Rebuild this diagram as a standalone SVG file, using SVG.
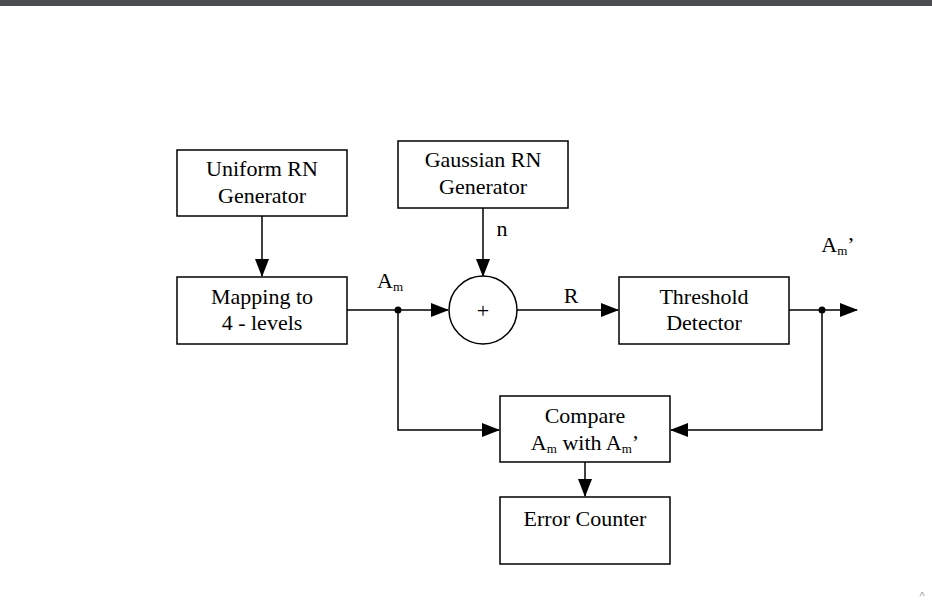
<svg xmlns="http://www.w3.org/2000/svg" width="932" height="604" viewBox="0 0 932 604">
<style>
.b{fill:#fff;stroke:#000;stroke-width:1.5}
.t{font-family:"Liberation Serif",serif;font-size:22px;fill:#000;text-anchor:middle}
.s{font-size:13px}
.c{fill:none;stroke:#000;stroke-width:1.5}
</style>
<defs><marker id="a2" markerWidth="18" markerHeight="14" refX="17" refY="7" orient="auto" markerUnits="userSpaceOnUse"><path d="M0,0L18,7L0,14z"/></marker></defs>
<rect x="0" y="0" width="932" height="6" fill="#4a4d50"/>
<g id="uniform"><rect class="b" x="177" y="150" width="170" height="66"/><text class="t" x="262" y="176">Uniform RN</text><text class="t" x="262" y="203">Generator</text></g>
<g id="gaussian"><rect class="b" x="398" y="141" width="170" height="67"/><text class="t" x="483" y="167">Gaussian RN</text><text class="t" x="483" y="194">Generator</text></g>
<g id="mapping"><rect class="b" x="177" y="277" width="170" height="67"/><text class="t" x="262" y="304">Mapping to</text><text class="t" x="262" y="330">4 - levels</text></g>
<g id="sum"><circle class="b" cx="483" cy="310" r="34"/><text class="t" x="483" y="318" fill="#333" font-size="26">+</text></g>
<g id="threshold"><rect class="b" x="619" y="277" width="170" height="67"/><text class="t" x="704" y="304">Threshold</text><text class="t" x="704" y="330">Detector</text></g>
<g id="compare"><rect class="b" x="500" y="396" width="170" height="66"/><text class="t" x="585" y="423">Compare</text><text class="t" x="585" y="450">A<tspan class="s" dy="3">m</tspan><tspan dy="-3"> with A</tspan><tspan class="s" dy="3">m</tspan><tspan dy="-3">’</tspan></text></g>
<g id="error"><rect class="b" x="500" y="497" width="170" height="67"/><text class="t" x="585" y="526">Error Counter</text></g>
<g id="connectors">
<path class="c" d="M262,216V276" marker-end="url(#a2)"/>
<path class="c" d="M483,208V276" marker-end="url(#a2)"/>
<path class="c" d="M347,310H448" marker-end="url(#a2)"/>
<path class="c" d="M517,310H618" marker-end="url(#a2)"/>
<path class="c" d="M789,310H857" marker-end="url(#a2)"/>
<path class="c" d="M398,310V430H499" marker-end="url(#a2)"/>
<path class="c" d="M822,310V430H671" marker-end="url(#a2)"/>
<path class="c" d="M585,462V496" marker-end="url(#a2)"/>
<circle cx="398" cy="310" r="3.5"/><circle cx="822" cy="310" r="3.5"/>
</g>
<text class="t" x="502" y="236">n</text>
<text class="t" x="571" y="303">R</text>
<text class="t" x="390" y="288">A<tspan class="s" dy="3">m</tspan></text>
<text class="t" x="838" y="252">A<tspan class="s" dy="3">m</tspan><tspan dy="-3">’</tspan></text>
<text x="922" y="600" font-family="Liberation Sans,sans-serif" font-size="11" fill="#999" text-anchor="middle">^</text>
</svg>
